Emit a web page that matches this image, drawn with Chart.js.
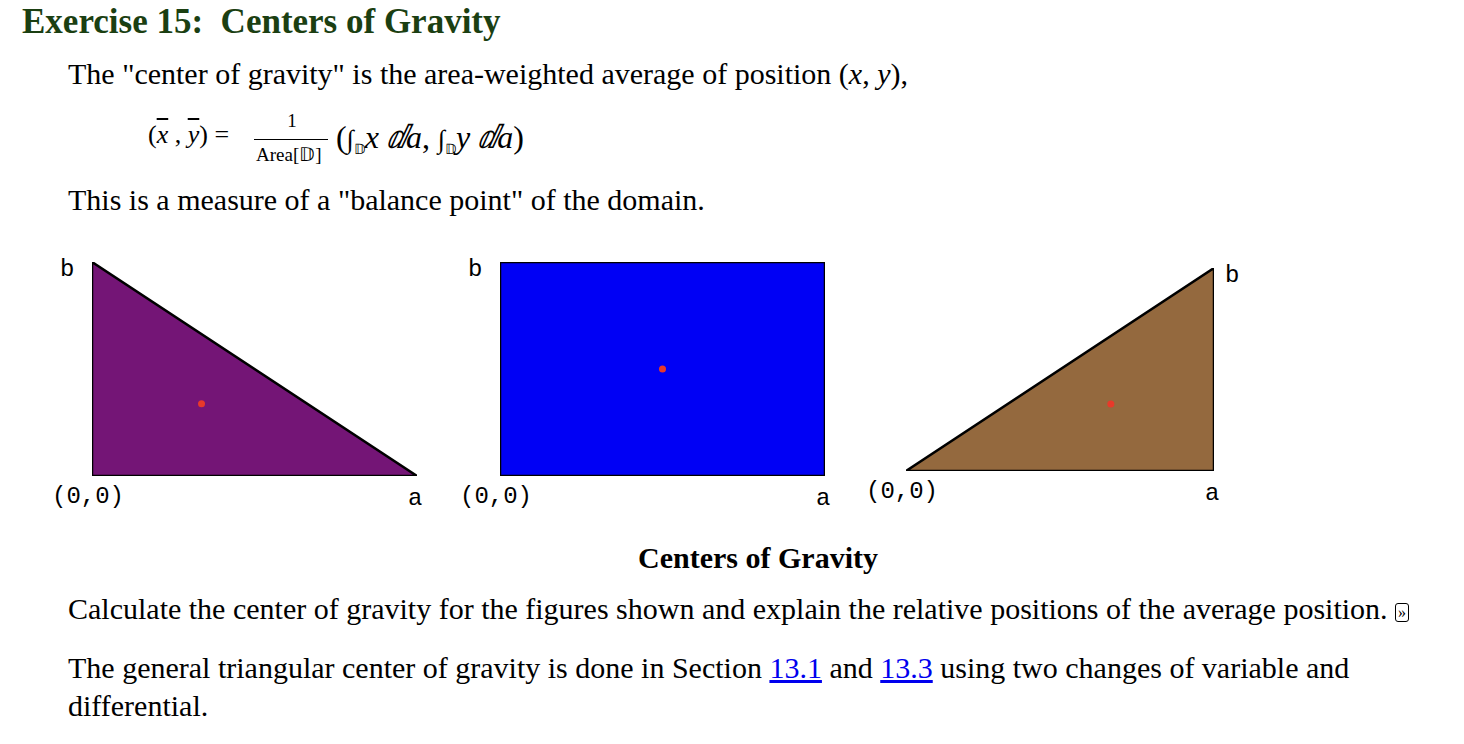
<!DOCTYPE html>
<html><head><meta charset="utf-8">
<script src="https://cdn.jsdelivr.net/npm/chart.js"></script>
<style>
body{margin:0;background:#fff;font-family:"Liberation Serif",serif;color:#000;}
.t{position:absolute;white-space:nowrap;font-size:30px;}
.m{position:absolute;font-family:"Liberation Mono",monospace;font-size:24px;}
canvas{position:absolute;}
a{color:#0000ee;}
</style></head><body>
<div class="t" style="left:22px;top:2px;font-size:35px;font-weight:bold;color:#1b3f12">Exercise 15:&nbsp; Centers of Gravity</div>
<div class="t" style="left:68px;top:57px">The "center of gravity" is the area-weighted average of position (<i>x</i>, <i>y</i>),</div>
<div class="t" style="left:148px;top:120px;font-size:26px">(<span style="text-decoration:overline"><i>x</i></span> , <span style="text-decoration:overline"><i>y</i></span>) =</div>
<div class="t" style="left:256px;top:110px;font-size:19px;width:72px;text-align:center">1</div>
<div style="position:absolute;left:254px;top:139px;width:74px;border-top:1px solid #000"></div>
<div class="t" style="left:256px;top:143px;font-size:19px">Area[𝔻]</div>
<div class="t" style="left:336px;top:114px;font-size:32px">(<span style="font-size:26px">∫<sub style="font-size:14px">𝔻</sub></span><i>x ⅆa</i>, <span style="font-size:26px">∫<sub style="font-size:14px">𝔻</sub></span><i>y ⅆa</i>)</div>
<div class="t" style="left:68px;top:183px">This is a measure of a "balance point" of the domain.</div>
<canvas id="c1" style="left:88px;top:258px" width="333" height="222"></canvas>
<canvas id="c2" style="left:496px;top:258px" width="333" height="222"></canvas>
<canvas id="c3" style="left:902px;top:264px" width="316" height="211"></canvas>
<div class="m" style="left:60px;top:256px">b</div>
<div class="m" style="left:52px;top:483px">(0,0)</div>
<div class="m" style="left:408px;top:485px">a</div>
<div class="m" style="left:468px;top:256px">b</div>
<div class="m" style="left:460px;top:483px">(0,0)</div>
<div class="m" style="left:816px;top:485px">a</div>
<div class="m" style="left:1225px;top:262px">b</div>
<div class="m" style="left:866px;top:478px">(0,0)</div>
<div class="m" style="left:1205px;top:480px">a</div>
<div class="t" style="left:0;width:1516px;text-align:center;top:541px;font-weight:bold">Centers of Gravity</div>
<div class="t" style="left:68px;top:592px">Calculate the center of gravity for the figures shown and explain the relative positions of the average position. <span style="display:inline-block;border:1px solid #000;border-radius:3px;font-size:16px;line-height:17px;padding:0 2px;vertical-align:middle">»</span></div>
<div class="t" style="left:68px;top:651px">The general triangular center of gravity is done in Section <a href="#">13.1</a> and <a href="#">13.3</a> using two changes of variable and</div>
<div class="t" style="left:68px;top:689px">differential.</div>
<script>
const tri1X=[0,1,0,0], tri1Y=[0,0,1,0];
const rectX=[0,1,1,0,0], rectY=[0,0,1,1,0];
const tri3X=[0,1,1,0], tri3Y=[0,0,1,0];
const cent1=[0.337,0.338], cent2=[0.5,0.5], cent3=[0.665,0.33];
const polyFill={id:'polyFill',beforeDatasetsDraw(chart){
  const meta=chart.getDatasetMeta(0), ctx=chart.ctx;
  ctx.save();ctx.beginPath();
  meta.data.forEach((p,i)=>i?ctx.lineTo(p.x,p.y):ctx.moveTo(p.x,p.y));
  ctx.closePath();ctx.fillStyle=chart.data.datasets[0].backgroundColor;ctx.fill();ctx.restore();
}};
function mk(id,xs,ys,c,col){
  new Chart(document.getElementById(id),{type:'scatter',
    data:{datasets:[
      {data:xs.map((x,i)=>({x:x,y:ys[i]})),showLine:true,fill:false,backgroundColor:col,borderColor:'#000',borderWidth:2.5,pointRadius:0,tension:0,order:2},
      {data:[{x:c[0],y:c[1]}],pointRadius:3.5,backgroundColor:'#e8392a',borderWidth:0,order:1}
    ]},
    options:{responsive:false,animation:false,layout:{padding:3},
      plugins:{legend:{display:false},tooltip:{enabled:false}},
      scales:{x:{type:'linear',min:0,max:1,display:false},y:{min:0,max:1,display:false}}},
    plugins:[polyFill]});
}
mk('c1',tri1X,tri1Y,cent1,'#741576');
mk('c2',rectX,rectY,cent2,'#0000f5');
mk('c3',tri3X,tri3Y,cent3,'#94693e');
</script>
</body></html>
